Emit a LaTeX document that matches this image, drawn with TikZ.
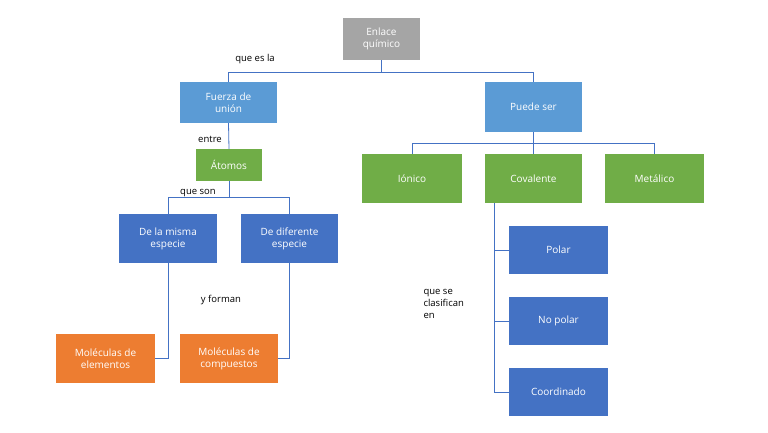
\documentclass[tikz,border=0pt]{standalone}
\usepackage{fontspec}
\setmainfont{Open Sans}
\definecolor{cgray}{HTML}{A5A5A5}
\definecolor{clight}{HTML}{5B9BD5}
\definecolor{cgreen}{HTML}{70AD47}
\definecolor{cblue}{HTML}{4472C4}
\definecolor{corange}{HTML}{ED7D31}
\begin{document}
\begin{tikzpicture}[x=1pt,y=-1pt,
    box/.style={text=white,font=\fontsize{10}{12}\selectfont,align=center,inner sep=0pt},
    link/.style={cblue,line width=0.8pt},
    note/.style={font=\fontsize{9.5}{12}\selectfont,align=left}]
  \useasboundingbox[fill=white] (0,0) rectangle (768,433);
  %boxes
  \node[box,fill=cgray,minimum width=77pt,minimum height=42pt] (enlace) at (381.5,39) {Enlace\\químico};
  \node[box,fill=clight,minimum width=97pt,minimum height=41pt] (fuerza) at (228.5,102.5) {Fuerza de\\unión};
  \node[box,fill=clight,minimum width=97pt,minimum height=50pt] (puede) at (533.5,107) {Puede ser};
  \node[box,fill=cgreen,minimum width=66pt,minimum height=32pt] (atomos) at (229,165) {Átomos};
  \node[box,fill=cgreen,minimum width=100pt,minimum height=49pt] (ionico) at (412,178.5) {Iónico};
  \node[box,fill=cgreen,minimum width=97pt,minimum height=49pt] (covalente) at (533.5,178.5) {Covalente};
  \node[box,fill=cgreen,minimum width=99pt,minimum height=49pt] (metalico) at (654.5,178.5) {Metálico};
  \node[box,fill=cblue,minimum width=98pt,minimum height=49pt] (misma) at (168,238.5) {De la misma\\especie};
  \node[box,fill=cblue,minimum width=97pt,minimum height=49pt] (diferente) at (289.5,238.5) {De diferente\\especie};
  \node[box,fill=cblue,minimum width=99pt,minimum height=48pt] (polar) at (558.5,250) {Polar};
  \node[box,fill=cblue,minimum width=99pt,minimum height=48pt] (nopolar) at (558.5,321) {No polar};
  \node[box,fill=cblue,minimum width=99pt,minimum height=48pt] (coord) at (558.5,392) {Coordinado};
  \node[box,fill=corange,minimum width=99pt,minimum height=49pt] (elementos) at (105.5,358.5) {Moléculas de\\elementos};
  \node[box,fill=corange,minimum width=98pt,minimum height=49pt] (compuestos) at (229,358.5) {Moléculas de\\compuestos};
  %connectors
  \draw[link] (enlace.south) |- (228.5,72) -- (fuerza.north);
  \draw[link] (enlace.south) |- (533.5,72) -- (puede.north);
  \draw[link] (fuerza.south) -- (atomos.north);
  \draw[link] (atomos.south) |- (168,197) -- (misma.north);
  \draw[link] (atomos.south) |- (289.5,197) -- (diferente.north);
  \draw[link] (puede.south) |- (412,143) -- (ionico.north);
  \draw[link] (puede.south) -- (covalente.north);
  \draw[link] (puede.south) |- (654.5,143) -- (metalico.north);
  \draw[link] (494,203) |- (coord.west);
  \draw[link] (494,250) -- (polar.west);
  \draw[link] (494,321) -- (nopolar.west);
  \draw[link] (misma.south) |- (elementos.east);
  \draw[link] (diferente.south) |- (compuestos.east);
  %labels
  \node[note] (l1) at (255,59) {que es la};
  \node[note] (l2) at (210,139) {entre};
  \node[note] (l3) at (198,193) {que son};
  \node[note] (l4) at (221,300) {y forman};
  \node[note,anchor=west] (l5) at (420,304) {que se\\clasifican\\en};
\end{tikzpicture}
\end{document}
